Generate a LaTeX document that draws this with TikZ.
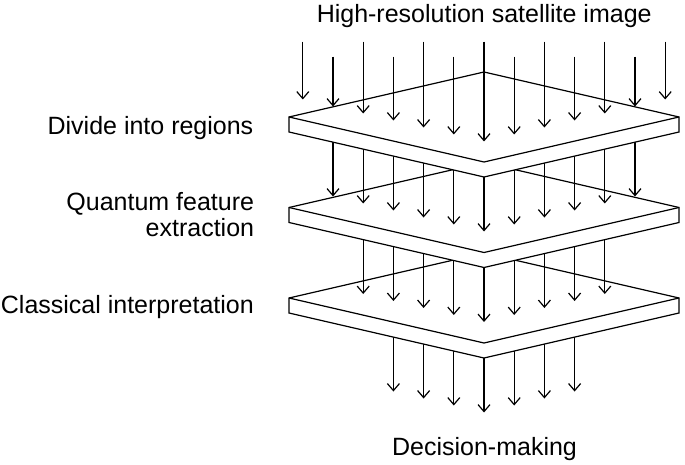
\documentclass[tikz,border=0pt]{standalone}
\usepackage{fontspec}
\setmainfont{Liberation Sans}
\usetikzlibrary{arrows.meta}
\newcommand\drawplate[2]{%
  \path[plate] (289,#2) coordinate (#1-l) -- (484,#2-45) coordinate (#1-b)
    -- (679,#2) coordinate (#1-r) -- (679,#2+15) -- (484,#2+60) -- (289,#2+15) -- cycle;
  \draw[edge] (289,#2) -- (484,#2+45) coordinate (#1-f) -- (679,#2);
}
\newcommand\drawflows[4]{% kmax, start y (or -1 for staggered), tip base y
  \foreach \k in {-#1,...,#1} {
    \pgfmathsetmacro\xx{484+30.2*\k}
    \pgfmathsetmacro\ys{#2<0 ? (mod(abs(\k),2)==0 ? 41.7 : 56.7) : #2}
    \pgfmathsetmacro\ye{#3-7*abs(\k)}
    \coordinate (#4\k s) at (\xx,\ys);
    \coordinate (#4\k e) at (\xx,\ye);
    \draw[flow] (#4\k s) -- (#4\k e);
  }
}
\begin{document}
\begin{tikzpicture}[x=1pt,y=-1pt,line join=miter,
  edge/.style={line width=1.2pt},
  plate/.style={draw,fill=white,line width=1.2pt},
  flow/.style={line width=1.2pt,-{Straight Barb[length=7pt,width=12pt,line width=1.2pt]}},
  lbl/.style={inner sep=0pt,font=\fontsize{25}{26.7}\selectfont}]
\useasboundingbox (0,0) rectangle (685,465);
% arrows below plate 3
\drawflows{3}{298}{412.5}{d}
\drawplate{p3}{298}
\drawflows{4}{207.5}{322}{c}
\drawplate{p2}{207.5}
\drawflows{5}{117}{231.5}{b}
\drawplate{p1}{117}
\drawflows{6}{-1}{141.5}{a}
% labels
\node[lbl,anchor=base] (top) at (484.2,22.3) {High-resolution satellite image};
\node[lbl,anchor=base east] (div) at (253.5,135) {Divide into regions};
\node[lbl,anchor=base east,align=right] (qfe) at (254.3,236.7) {Quantum feature\\extraction};
\node[lbl,anchor=base east] (cls) at (254,313.3) {Classical interpretation};
\node[lbl,anchor=base] (dec) at (484.5,455) {Decision-making};
\end{tikzpicture}
\end{document}
